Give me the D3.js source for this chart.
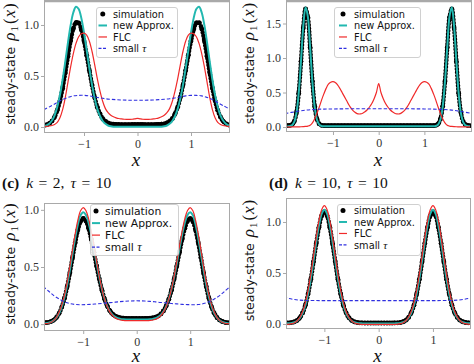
<!DOCTYPE html>
<html><head><meta charset="utf-8">
<script src="https://cdn.jsdelivr.net/npm/d3@7"></script>
<style>body{margin:0;background:#fff}svg{display:block}</style>
</head><body><svg id="c" width="474" height="364"></svg>
<script>
// ---------- DATA ----------
const seriesNames = ["simulation", "new Approx.", "FLC", "small τ"];
const xTickVals = [-1, 0, 1];
const xTickLabels = ["\u22121", "0", "1"];
const yTicksA = [0, 0.5, 1.0], yTicksB = [0, 0.5, 1.0, 1.5], yTicksC = [0, 0.5, 1.0], yTicksD = [0, 0.5, 1.0];
const yTickLabelsA = ["0.0","0.5","1.0"], yTickLabelsB = ["0.0","0.5","1.0","1.5"];

const xACD = [-1.75,-1.7,-1.65,-1.6,-1.55,-1.5,-1.45,-1.4,-1.35,-1.3,-1.25,-1.2,-1.15,-1.1,-1.05,-1,-0.95,-0.9,-0.85,-0.8,-0.75,-0.7,-0.65,-0.6,-0.55,-0.5,-0.45,-0.4,-0.35,-0.3,-0.25,-0.2,-0.15,-0.1,-0.05,0,0.05,0.1,0.15,0.2,0.25,0.3,0.35,0.4,0.45,0.5,0.55,0.6,0.65,0.7,0.75,0.8,0.85,0.9,0.95,1,1.05,1.1,1.15,1.2,1.25,1.3,1.35,1.4,1.45,1.5,1.55,1.6,1.65,1.7,1.75];
const xB = [-2,-1.95,-1.9,-1.85,-1.8,-1.75,-1.7,-1.65,-1.6,-1.55,-1.5,-1.45,-1.4,-1.35,-1.3,-1.25,-1.2,-1.15,-1.1,-1.05,-1,-0.95,-0.9,-0.85,-0.8,-0.75,-0.7,-0.65,-0.6,-0.55,-0.5,-0.45,-0.4,-0.35,-0.3,-0.25,-0.2,-0.15,-0.1,-0.05,0,0.05,0.1,0.15,0.2,0.25,0.3,0.35,0.4,0.45,0.5,0.55,0.6,0.65,0.7,0.75,0.8,0.85,0.9,0.95,1,1.05,1.1,1.15,1.2,1.25,1.3,1.35,1.4,1.45,1.5,1.55,1.6,1.65,1.7,1.75,1.8,1.85,1.9,1.95,2];

// panel (a)
const simA = [.015,.021,.034,.058,.099,.163,.257,.381,.532,.693,.846,.963,1.024,1.02,.955,.844,.703,.553,.411,.289,.193,.128,.081,.056,.039,.031,.028,.026,.025,.024,.024,.024,.024,.025,.025,.025,.025,.025,.024,.024,.024,.024,.025,.026,.028,.031,.039,.056,.081,.128,.193,.289,.411,.553,.703,.844,.955,1.02,1.024,.963,.846,.693,.532,.381,.257,.163,.099,.058,.034,.021,.015];
const apprA = [.007,.015,.032,.063,.115,.196,.312,.463,.64,.827,.998,1.122,1.179,1.157,1.067,.924,.752,.574,.413,.278,.176,.105,.059,.031,.015,.007,.003,.002,.002,.002,.002,.002,.002,.002,.002,.002,.002,.002,.002,.002,.002,.002,.002,.002,.003,.007,.015,.031,.059,.105,.176,.278,.413,.574,.752,.924,1.067,1.157,1.179,1.122,.998,.827,.64,.463,.312,.196,.115,.063,.032,.015,.007];
const flcA = [.005,.007,.01,.015,.025,.045,.09,.17,.29,.44,.59,.72,.82,.885,.915,.92,.9,.84,.74,.61,.47,.35,.25,.18,.14,.115,.1,.09,.083,.079,.076,.075,.075,.076,.08,.085,.08,.076,.075,.075,.076,.079,.083,.09,.1,.115,.14,.18,.25,.35,.47,.61,.74,.84,.9,.92,.915,.885,.82,.72,.59,.44,.29,.17,.09,.045,.025,.015,.01,.007,.005];
const tauXA = [-1.75,-1.6,-1.5,-1.4,-1.3,-1.2,-1.1,-1.0,-0.9,-0.8,-0.7,-0.6,-0.5,-0.4,-0.3,-0.2,-0.1,0,0.1,0.2,0.3,0.4,0.5,0.6,0.7,0.8,0.9,1.0,1.1,1.2,1.3,1.4,1.5,1.6,1.75];
const tauA = [.17,.21,.24,.27,.29,.305,.31,.31,.305,.295,.285,.277,.272,.268,.265,.263,.262,.262,.262,.263,.265,.268,.272,.277,.285,.295,.305,.31,.31,.305,.29,.27,.24,.21,.17];

// panel (b)
const simB = [.02,.023,.034,.078,.207,.49,.948,1.44,1.71,1.589,1.154,.658,.3,.115,.045,.025,.02,.02,.02,.02,.02,.02,.02,.02,.02,.02,.02,.02,.02,.02,.02,.02,.02,.02,.02,.02,.02,.02,.02,.02,.02,.02,.02,.02,.02,.02,.02,.02,.02,.02,.02,.02,.02,.02,.02,.02,.02,.02,.02,.02,.02,.02,.02,.02,.02,.025,.045,.115,.3,.658,1.154,1.589,1.71,1.44,.948,.49,.207,.078,.034,.023,.02];
const apprB = [.01,.013,.024,.07,.2,.49,.955,1.46,1.735,1.6,1.15,.65,.29,.105,.035,.015,.01,.01,.01,.01,.01,.01,.01,.01,.01,.01,.01,.01,.01,.01,.01,.01,.01,.01,.01,.01,.01,.01,.01,.01,.01,.01,.01,.01,.01,.01,.01,.01,.01,.01,.01,.01,.01,.01,.01,.01,.01,.01,.01,.01,.01,.01,.01,.01,.01,.015,.035,.105,.29,.65,1.15,1.6,1.735,1.46,.955,.49,.2,.07,.024,.013,.01];
const flcB = [.001,.001,.001,.002,.002,.003,.004,.006,.009,.014,.025,.06,.12,.2,.29,.39,.48,.56,.62,.65,.657,.645,.61,.56,.5,.44,.38,.32,.27,.23,.205,.19,.19,.2,.22,.25,.29,.34,.41,.5,.63,.5,.41,.34,.29,.25,.22,.2,.19,.19,.205,.23,.27,.32,.38,.44,.5,.56,.61,.645,.657,.65,.62,.56,.48,.39,.29,.2,.12,.06,.025,.014,.009,.006,.004,.003,.002,.002,.001,.001,.001];
const tauXB = [-2.05,-1.8,-1.6,-1.4,-1.2,-1.0,-0.5,0,0.5,1.0,1.2,1.4,1.6,1.8,2.05];
const tauB = [.195,.225,.245,.255,.26,.262,.265,.265,.265,.262,.26,.255,.245,.225,.195];

// panel (c) k=2, tau=10
const simC = [.01,.013,.016,.023,.036,.058,.095,.149,.227,.328,.448,.582,.712,.823,.898,.925,.902,.839,.744,.629,.509,.395,.297,.218,.158,.116,.088,.071,.061,.055,.052,.051,.05,.05,.05,.05,.05,.05,.05,.051,.052,.055,.061,.071,.088,.116,.158,.218,.297,.395,.509,.629,.744,.839,.902,.925,.898,.823,.712,.582,.448,.328,.227,.149,.095,.058,.036,.023,.016,.013,.01];
const apprC = [.006,.008,.012,.019,.033,.056,.095,.153,.236,.343,.472,.614,.753,.872,.952,.98,.956,.888,.785,.662,.533,.411,.305,.22,.156,.111,.081,.063,.052,.046,.043,.041,.04,.04,.04,.04,.04,.04,.04,.041,.043,.046,.052,.063,.081,.111,.156,.22,.305,.411,.533,.662,.785,.888,.956,.98,.952,.872,.753,.614,.472,.343,.236,.153,.095,.056,.033,.019,.012,.008,.006];
const flcC = [.002,.004,.008,.017,.033,.06,.103,.166,.254,.368,.502,.648,.79,.911,.992,1.02,.994,.923,.815,.685,.549,.421,.309,.219,.152,.105,.074,.054,.043,.036,.033,.031,.03,.03,.03,.03,.03,.03,.03,.031,.033,.036,.043,.054,.074,.105,.152,.219,.309,.421,.549,.685,.815,.923,.994,1.02,.992,.911,.79,.648,.502,.368,.254,.166,.103,.06,.033,.017,.008,.004,.002];
const tauXC = [-1.75,-1.65,-1.55,-1.45,-1.35,-1.25,-1.15,-1.05,-0.95,-0.85,-0.75,-0.65,-0.55,-0.45,-0.35,-0.25,-0.15,-0.05,0.05,0.15,0.25,0.35,0.45,0.55,0.65,0.75,0.85,0.95,1.05,1.15,1.25,1.35,1.45,1.55,1.65,1.75];
const tauC = [.33,.29,.25,.22,.195,.18,.172,.17,.171,.173,.177,.181,.186,.19,.195,.199,.202,.204,.204,.202,.199,.195,.19,.186,.181,.177,.173,.171,.17,.172,.18,.195,.22,.25,.29,.33];

// panel (d) k=10, tau=10
const simD = [.01,.011,.012,.015,.022,.036,.063,.11,.184,.295,.438,.61,.789,.948,1.06,1.1,1.06,.948,.789,.61,.438,.295,.184,.11,.063,.036,.022,.015,.012,.011,.01,.01,.01,.01,.01,.01,.01,.01,.01,.01,.01,.011,.012,.015,.022,.036,.063,.11,.184,.295,.438,.61,.789,.948,1.06,1.1,1.06,.948,.789,.61,.438,.295,.184,.11,.063,.036,.022,.015,.012,.011,.01];
const apprD = [.005,.006,.007,.01,.017,.032,.059,.107,.183,.296,.443,.618,.802,.965,1.079,1.12,1.079,.965,.802,.618,.443,.296,.183,.107,.059,.032,.017,.01,.007,.006,.005,.005,.005,.005,.005,.005,.005,.005,.005,.005,.005,.006,.007,.01,.017,.032,.059,.107,.183,.296,.443,.618,.802,.965,1.079,1.12,1.079,.965,.802,.618,.443,.296,.183,.107,.059,.032,.017,.01,.007,.006,.005];
const flcD = [-.003,-.003,-.002,.003,.013,.032,.066,.122,.208,.33,.485,.665,.848,1.01,1.12,1.16,1.12,1.01,.848,.665,.485,.33,.208,.122,.066,.032,.013,.003,-.002,-.003,-.003,-.003,-.003,-.003,-.003,-.003,-.003,-.003,-.003,-.003,-.003,-.003,-.002,.003,.013,.032,.066,.122,.208,.33,.485,.665,.848,1.01,1.12,1.16,1.12,1.01,.848,.665,.485,.33,.208,.122,.066,.032,.013,.003,-.002,-.003,-.003];
const tauXD = [-1.75,-1.65,-1.55,-1.45,-1.35,-1.2,-1.0,-0.5,0,0.5,1.0,1.2,1.35,1.45,1.55,1.65,1.75];
const tauD = [.265,.25,.24,.234,.231,.23,.229,.229,.229,.229,.229,.23,.231,.234,.24,.25,.265];

// ---------- STYLE / LAYOUT ----------
const COL = {sim:"#000000", appr:"#22b8b0", flc:"#f02a2a", tau:"#2f2fe0", spine:"#a9a9a9", tick:"#333"};
const SERIF = "Liberation Serif, DejaVu Serif, serif";
const SANS = "DejaVu Sans, sans-serif";

const panels = [
  {id:"a", l:44, r:230, t:1, b:133, xd:[-1.748,1.729], yd:[-0.0588,1.235], yt:yTicksA, ytl:yTickLabelsA,
   x:xACD, sim:simA, appr:apprA, flc:flcA, tx:tauXA, ty:tauA, ylx:15, xlOff:33,
   leg:{x:96, y:7, w:81, h:50, hx0:98.5, hx1:107, tx:113, fs:9.8, rows:[17.5,29,40.5,52]}},
  {id:"b", l:286, r:472, t:1, b:132, xd:[-2.028,2.042], yd:[-0.072,1.826], yt:yTicksB, ytl:yTickLabelsB,
   x:xB, sim:simB, appr:apprB, flc:flcB, tx:tauXB, ty:tauB, ylx:254, xlOff:34,
   leg:{x:334, y:7, w:86, h:50, hx0:339, hx1:347, tx:354, fs:9.8, rows:[17.5,29,40.5,52]}},
  {id:"c", l:44, r:230, t:203, b:331, xd:[-1.733,1.744], yd:[-0.06,1.06], yt:yTicksC, ytl:yTickLabelsA,
   x:xACD, sim:simC, appr:apprC, flc:flcC, tx:tauXC, ty:tauC, ylx:15, xlOff:31,
   title:{x:2, y:188, lab:"(c)", parts:[["k",1],["=",0],["2,",0],["τ",1],["=",0],["10",0]]},
   leg:{x:90, y:204, w:88, h:51, hx0:92, hx1:100, tx:105, fs:10.8, rows:[215,227,239,251]}},
  {id:"d", l:286, r:471, t:198, b:329, xd:[-1.707,1.701], yd:[-0.049,1.235], yt:yTicksD, ytl:yTickLabelsA,
   x:xACD, sim:simD, appr:apprD, flc:flcD, tx:tauXD, ty:tauD, ylx:254, xlOff:33,
   title:{x:269, y:188, lab:"(d)", parts:[["k",1],["=",0],["10,",0],["τ",1],["=",0],["10",0]]},
   leg:{x:337, y:204, w:83, h:51, hx0:339, hx1:347, tx:354, fs:9.8, rows:[214,225.5,237,248.5]}}
];

const svg = d3.select("#c");
svg.append("rect").attr("width",474).attr("height",364).attr("fill","#fff");

panels.forEach(p => {
  const xs = d3.scaleLinear().domain(p.xd).range([p.l, p.r]);
  const ys = d3.scaleLinear().domain(p.yd).range([p.b, p.t]);
  const g = svg.append("g");
  const clipId = "clip-" + p.id;
  svg.append("clipPath").attr("id", clipId).append("rect")
    .attr("x", p.l).attr("y", p.t).attr("width", p.r - p.l).attr("height", p.b - p.t);

  const plot = g.append("g").attr("clip-path", `url(#${clipId})`);
  const line = d3.line().x(d => xs(d[0])).y(d => ys(d[1])).curve(d3.curveCatmullRom);

  // simulation: dense black dots
  const simPts = d3.zip(p.x, p.sim);
  plot.append("path").datum(simPts).attr("d", line).attr("fill","none")
    .attr("stroke", COL.sim).attr("stroke-width", 4.6).attr("stroke-linecap","round")
    .attr("stroke-dasharray","0 3.3");
  plot.selectAll("circle.sim").data(simPts).join("circle").attr("class","sim")
    .attr("cx", d => xs(d[0])).attr("cy", d => ys(d[1])).attr("r", 2.4).attr("fill", COL.sim);

  plot.append("path").datum(d3.zip(p.x, p.appr)).attr("d", line).attr("fill","none")
    .attr("stroke", COL.appr).attr("stroke-width", 2);
  plot.append("path").datum(d3.zip(p.x, p.flc)).attr("d", line).attr("fill","none")
    .attr("stroke", COL.flc).attr("stroke-width", 1.2);
  plot.append("path").datum(d3.zip(p.tx, p.ty)).attr("d", line).attr("fill","none")
    .attr("stroke", COL.tau).attr("stroke-width", 1.1).attr("stroke-dasharray","3.5 2");

  // frame
  g.append("rect").attr("x", p.l + 0.5).attr("y", p.t + 0.5).attr("width", p.r - p.l - 1).attr("height", p.b - p.t - 1)
    .attr("fill","none").attr("stroke", COL.spine).attr("stroke-width", 1);
  if (p.t <= 1) {
    g.append("line").attr("x1", p.l).attr("x2", p.r).attr("y1", 1).attr("y2", 1)
      .attr("stroke", COL.spine).attr("stroke-width", 2.5);
  }

  // x axis
  const xAxis = d3.axisBottom(xs).tickValues(xTickVals).tickFormat((d, i) => xTickLabels[i]).tickSize(3).tickPadding(3);
  const gx = g.append("g").attr("transform", `translate(0,${p.b})`).call(xAxis)
    .attr("font-family", null).attr("font-size", null);
  gx.select(".domain").remove();
  gx.selectAll(".tick line").attr("stroke", COL.spine);
  gx.selectAll(".tick text").style("font-family", SERIF).style("font-size", "12px").attr("fill", COL.tick);

  // y axis
  const yAxis = d3.axisLeft(ys).tickValues(p.yt).tickFormat((d, i) => p.ytl[i]).tickSize(3).tickPadding(2);
  const gy = g.append("g").attr("transform", `translate(${p.l},0)`).call(yAxis)
    .attr("font-family", null).attr("font-size", null);
  gy.select(".domain").remove();
  gy.selectAll(".tick line").attr("stroke", COL.spine);
  gy.selectAll(".tick text").style("font-family", SERIF).style("font-size", "12px").attr("fill", COL.tick);

  // x label
  g.append("text").attr("x", (p.l + p.r) / 2 - 1).attr("y", p.b + p.xlOff)
    .attr("text-anchor","middle").style("font-family", SERIF).style("font-style","italic")
    .style("font-size", "19px").attr("fill","#111").text("x");

  // y label
  const yl = g.append("text").attr("transform", `translate(${p.ylx},${(p.t + p.b) / 2 - 3}) rotate(-90)`)
    .attr("text-anchor","middle").attr("fill","#111");
  yl.append("tspan").style("font-family", SANS).style("font-size", "12.5px").text("steady-state ");
  yl.append("tspan").style("font-family", SERIF).style("font-style","italic").style("font-size", "17px").attr("dx", 2).text("ρ");
  yl.append("tspan").style("font-family", SERIF).style("font-size", "11px").attr("dy", 3).attr("dx", 1).text("1");
  yl.append("tspan").style("font-family", SERIF).style("font-size", "17px").attr("dy", -3).attr("dx", 2).text("(");
  yl.append("tspan").style("font-family", SERIF).style("font-style","italic").style("font-size", "17px").attr("dx", 1).text("x");
  yl.append("tspan").style("font-family", SERIF).style("font-size", "17px").attr("dx", 1).text(")");

  // title
  if (p.title) {
    const t = g.append("text").attr("x", p.title.x).attr("y", p.title.y).style("font-family", SERIF)
      .style("font-size", "15.5px").attr("fill","#111");
    t.append("tspan").style("font-weight","bold").text(p.title.lab);
    p.title.parts.forEach((pt, i) => {
      t.append("tspan").attr("dx", i === 0 ? 7 : (pt[0] === "τ" ? 6 : 5.5))
        .style("font-style", pt[1] ? "italic" : "normal").text(pt[0]);
    });
  }

  // legend
  const L = p.leg;
  const lg = g.append("g");
  lg.append("rect").attr("x", L.x + 0.5).attr("y", L.y + 0.5).attr("width", L.w).attr("height", L.h)
    .attr("rx", 2.5).attr("fill","rgba(255,255,255,0.85)").attr("stroke","#d0d0d0").attr("stroke-width", 1);
  const hmid = (L.hx0 + L.hx1) / 2;
  seriesNames.forEach((name, i) => {
    const cy = L.rows[i] - L.fs * 0.36;
    if (i === 0) {
      lg.append("circle").attr("cx", hmid).attr("cy", cy).attr("r", 2.5).attr("fill", COL.sim);
    } else {
      const c = [null, COL.appr, COL.flc, COL.tau][i];
      lg.append("line").attr("x1", L.hx0).attr("x2", L.hx1).attr("y1", cy).attr("y2", cy)
        .attr("stroke", c).attr("stroke-width", i === 1 ? 2 : 1.2)
        .attr("stroke-dasharray", i === 3 ? "3 1.5" : null);
    }
    const tx = lg.append("text").attr("x", L.tx).attr("y", L.rows[i]).style("font-family", SANS)
      .style("font-size", L.fs + "px").attr("fill","#111");
    if (i === 3) {
      tx.append("tspan").text("small ");
      tx.append("tspan").style("font-family", SERIF).style("font-style","italic").style("font-size", (L.fs * 1.15) + "px").text("τ");
    } else {
      tx.text(name);
    }
  });
});
</script>
</body></html>
